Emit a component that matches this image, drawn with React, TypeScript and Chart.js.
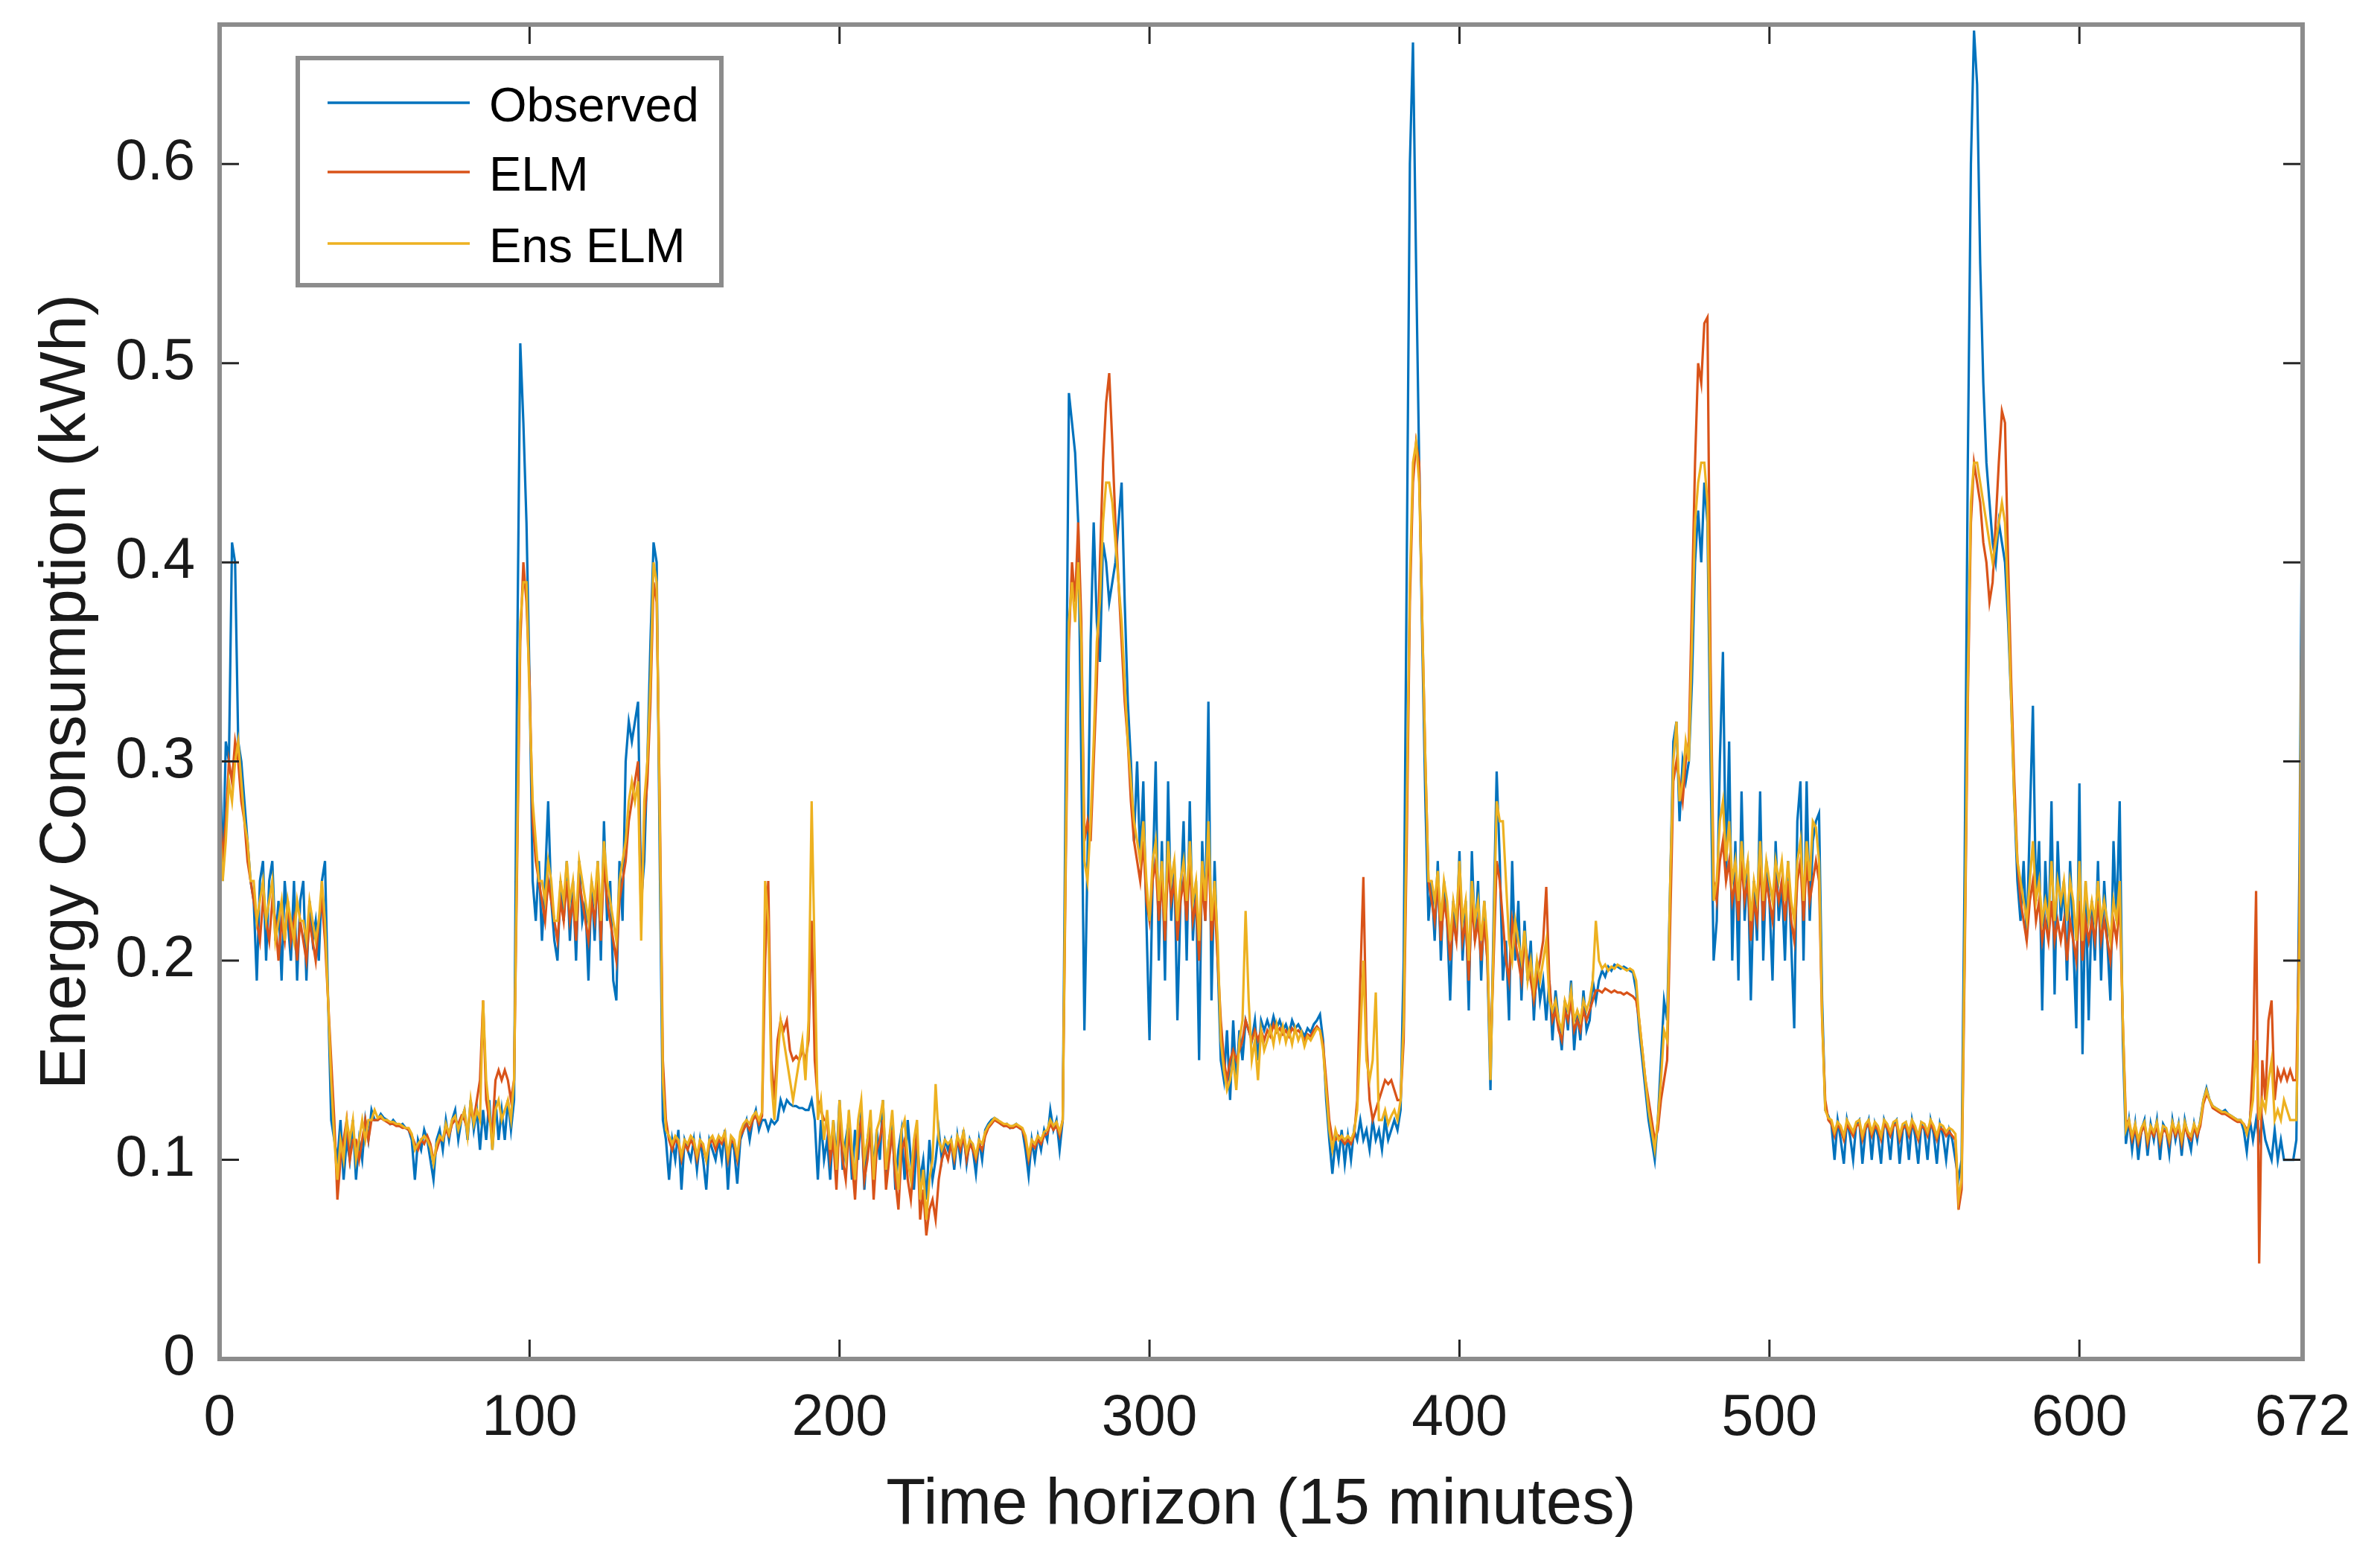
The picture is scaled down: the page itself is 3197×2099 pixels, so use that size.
import { useEffect, useRef } from 'react';
import { Chart, registerables } from 'chart.js';

Chart.register(...registerables);

const xTickValues = [0, 100, 200, 300, 400, 500, 600, 672];
const yTickValues = [0, 0.1, 0.2, 0.3, 0.4, 0.5, 0.6];
const seriesLabels = ['Observed', 'ELM', 'Ens ELM'];
const seriesColors = ['#0072BD', '#D95319', '#EDB120'];

const observed = [
  0.32,0.24,0.31,0.30,0.41,0.40,0.31,0.30,0.28,0.26,0.24,
  0.23,0.19,0.24,0.25,0.20,0.24,0.25,0.21,0.23,0.19,0.24,0.22,0.20,0.24,0.19,0.23,0.24,0.19,0.23,0.21,0.22,0.20,0.24,0.25,0.18,
  0.12,0.11,0.10,0.12,0.09,0.11,0.10,0.12,0.09,0.11,0.10,0.12,0.11,0.125,0.12,
  0.12,0.123,0.121,0.12,0.118,0.12,0.118,0.117,0.118,0.116,
  0.115,0.11,0.09,0.11,0.105,0.115,0.11,0.10,0.09,0.11,0.115,0.105,0.12,0.11,0.12,
  0.125,0.11,0.12,0.125,0.11,0.13,0.115,0.125,0.105,0.125,0.11,0.13,0.105,0.13,0.11,0.125,0.11,0.13,0.115,
  0.13,0.35,0.51,0.47,0.42,0.34,0.24,
  0.22,0.25,0.21,0.24,0.28,0.23,0.21,0.20,0.24,0.22,0.25,0.21,0.24,0.20,0.25,0.22,0.23,0.19,0.24,0.21,0.25,0.20,0.27,0.22,0.24,0.19,0.18,0.25,0.22,
  0.30,0.32,0.31,0.32,0.33,0.23,0.25,0.30,0.36,0.41,0.40,0.25,0.12,0.11,
  0.09,0.11,0.10,0.115,0.085,0.11,0.105,0.10,0.11,0.095,0.11,0.10,0.085,0.11,0.105,0.10,0.11,0.10,0.115,0.085,0.11,0.105,0.088,0.11,0.115,0.12,0.11,0.12,0.125,0.115,0.12,
  0.12,0.115,0.12,0.118,0.12,0.13,0.125,0.13,0.128,0.127,0.127,0.126,0.126,0.125,0.125,0.13,0.12,0.09,0.12,0.10,
  0.11,0.09,0.12,0.10,0.13,0.095,0.11,0.12,0.09,0.115,0.10,0.125,0.085,0.11,0.12,0.095,0.115,0.10,0.13,0.09,0.11,0.12,0.085,0.105,0.115,0.09,0.12,0.10,0.085,0.11,
  0.09,0.10,0.08,0.11,0.09,0.10,0.115,0.10,0.11,0.105,
  0.11,0.095,0.112,0.10,0.115,0.098,0.11,0.105,0.093,0.11,0.10,0.115,
  0.118,0.12,0.121,0.12,0.118,0.117,0.118,0.116,0.117,0.118,0.116,0.115,
  0.105,0.092,0.11,0.10,0.112,0.105,0.115,0.11,0.125,0.115,0.12,0.105,
  0.12,0.30,0.485,0.47,0.455,0.42,0.30,0.165,0.25,0.36,0.42,0.37,0.35,0.41,0.40,0.38,0.39,0.40,0.42,0.44,0.38,0.33,0.30,0.26,
  0.30,0.25,0.29,0.22,0.16,0.24,0.30,0.20,0.26,0.19,0.29,0.22,0.25,0.17,0.23,0.27,0.20,0.28,0.21,0.24,0.15,0.26,0.22,0.33,0.18,0.25,0.20,
  0.15,0.14,0.165,0.13,0.17,0.14,0.165,0.15,0.17,0.165,0.16,0.17,0.15,0.17,0.165,
  0.17,0.165,0.172,0.166,0.17,0.165,0.168,0.163,0.17,0.166,0.168,0.165,0.162,0.166,0.164,0.168,0.17,
  0.173,0.16,0.13,0.11,0.093,
  0.11,0.10,0.115,0.098,0.112,0.10,0.115,0.11,0.12,0.11,0.115,0.105,0.12,0.11,0.115,0.105,0.12,0.11,0.115,0.12,0.115,0.125,0.20,0.40,0.60,0.661,0.55,0.45,0.36,0.28,0.22,
  0.24,0.21,0.25,0.20,0.24,0.22,0.18,0.23,0.21,0.255,0.20,0.23,0.175,0.255,0.21,0.24,0.19,0.23,0.20,
  0.135,0.22,0.295,0.25,0.19,0.21,0.17,0.25,0.20,0.23,0.18,0.22,0.19,0.21,0.17,0.20,0.18,0.19,0.17,0.19,
  0.16,0.185,0.17,0.155,0.18,0.165,0.19,0.155,0.175,0.16,0.185,0.165,0.17,0.19,0.18,
  0.19,0.195,0.192,0.197,0.195,0.198,0.197,0.196,0.197,0.196,0.195,0.194,
  0.185,0.165,0.15,0.135,0.12,0.11,0.10,0.12,0.15,0.18,0.17,0.24,0.31,0.32,0.27,0.30,0.29,0.30,0.34,0.40,0.426,0.40,0.44,0.42,0.30,0.20,0.22,0.30,0.355,0.24,0.31,0.20,
  0.26,0.19,0.285,0.22,0.25,0.18,0.24,0.21,0.285,0.20,0.25,0.23,0.19,0.26,0.22,0.24,0.20,0.25,0.21,0.166,0.27,0.29,0.20,0.29,0.22,0.26,
  0.27,0.274,0.18,0.125,
  0.122,0.118,0.10,0.12,0.11,0.098,0.12,0.112,0.10,0.118,0.12,0.098,0.115,0.12,0.10,0.118,0.112,0.098,0.12,0.115,0.10,0.118,0.12,0.098,0.115,0.118,0.10,0.12,0.112,0.098,0.118,0.115,0.10,0.12,0.113,0.098,0.118,0.112,0.10,0.115,0.11,0.10,
  0.09,0.10,0.25,0.45,0.60,0.667,0.64,0.55,0.49,0.45,0.43,0.41,0.40,0.42,0.41,0.40,0.37,0.33,0.28,0.24,
  0.22,0.25,0.21,0.27,0.328,0.23,0.26,0.175,0.25,0.21,0.28,0.183,0.26,0.22,0.24,0.19,0.25,0.21,0.166,0.289,0.153,0.24,0.17,0.23,0.20,0.25,0.19,0.24,0.21,0.18,0.26,0.22,0.28,
  0.16,0.108,
  0.12,0.105,0.118,0.10,0.115,0.12,0.102,0.118,0.11,0.12,0.10,0.118,0.115,0.103,0.12,0.11,0.118,0.102,0.12,0.112,0.105,0.118,0.11,0.12,
  0.13,0.136,0.13,
  0.127,0.126,0.125,0.124,0.125,0.123,0.122,0.121,0.12,0.12,
  0.115,0.104,0.12,0.11,0.12,0.11,0.12,0.11,0.105,0.10,0.115,0.10,0.11,0.10,0.10,0.10,0.10,0.11,0.25,0.47,
];

const elm = [
  0.28,0.25,0.27,0.30,0.29,0.31,0.30,0.28,0.27,0.25,0.24,
  0.23,0.22,0.21,0.23,0.22,0.21,0.23,0.22,0.20,0.22,0.21,0.23,0.21,0.22,0.20,0.22,0.21,0.20,0.22,0.21,0.20,0.22,0.23,0.21,0.18,
  0.15,0.12,0.08,0.10,0.11,0.12,0.10,0.11,0.11,0.10,0.11,0.12,0.11,0.12,0.12,
  0.12,0.121,0.12,0.119,0.118,0.118,0.117,0.117,0.116,0.116,
  0.115,0.112,0.108,0.105,0.11,0.108,0.112,0.108,0.10,0.105,0.11,0.11,0.115,0.112,0.118,
  0.12,0.118,0.122,0.12,0.115,0.125,0.12,0.13,0.14,0.18,0.13,0.12,0.115,0.14,0.145,0.14,0.145,0.14,0.13,
  0.14,0.25,0.36,0.40,0.38,0.34,0.27,
  0.25,0.24,0.23,0.22,0.24,0.23,0.22,0.21,0.23,0.22,0.24,0.22,0.23,0.21,0.24,0.23,0.22,0.21,0.23,0.22,0.24,0.21,0.25,0.23,0.22,0.21,0.20,0.23,0.24,
  0.25,0.27,0.28,0.29,0.30,0.22,0.27,0.29,0.33,0.39,0.38,0.28,0.15,0.12,
  0.11,0.105,0.11,0.108,0.10,0.108,0.105,0.11,0.107,0.10,0.108,0.106,0.10,0.108,0.11,0.105,0.11,0.108,0.112,0.10,0.11,0.108,0.10,0.112,0.115,0.118,0.115,0.12,0.122,0.118,0.122,
  0.20,0.24,0.15,0.13,0.16,0.17,0.165,0.17,0.155,0.15,0.152,0.15,0.155,0.15,0.16,0.22,0.15,0.13,0.125,0.12,
  0.12,0.10,0.11,0.085,0.12,0.10,0.09,0.115,0.10,0.08,0.11,0.12,0.09,0.10,0.115,0.08,0.105,0.11,0.12,0.085,0.10,0.115,0.09,0.075,0.105,0.11,0.09,0.08,0.10,0.115,
  0.07,0.085,0.062,0.075,0.08,0.07,0.09,0.10,0.105,0.10,
  0.108,0.10,0.11,0.105,0.112,0.10,0.108,0.105,0.10,0.108,0.105,0.112,
  0.116,0.118,0.12,0.119,0.118,0.117,0.117,0.116,0.116,0.117,0.116,0.115,
  0.11,0.10,0.108,0.106,0.11,0.108,0.112,0.113,0.118,0.115,0.117,0.112,
  0.12,0.25,0.36,0.40,0.38,0.42,0.37,0.26,0.27,0.26,0.30,0.34,0.40,0.45,0.48,0.495,0.46,0.42,0.39,0.36,0.33,0.31,0.28,0.26,
  0.25,0.24,0.26,0.23,0.22,0.24,0.25,0.22,0.24,0.21,0.25,0.23,0.24,0.21,0.23,0.24,0.22,0.25,0.22,0.23,0.20,0.24,0.22,0.26,0.21,0.23,0.20,
  0.17,0.15,0.14,0.15,0.155,0.15,0.155,0.16,0.17,0.165,0.16,0.165,0.16,0.165,0.16,
  0.165,0.162,0.168,0.164,0.166,0.163,0.165,0.162,0.166,0.164,0.165,0.163,0.16,0.163,0.162,0.165,0.167,
  0.165,0.158,0.14,0.12,0.11,
  0.11,0.112,0.11,0.108,0.11,0.108,0.112,0.13,0.19,0.242,0.16,0.13,0.12,0.125,0.13,0.135,0.14,0.138,0.14,0.135,0.13,0.13,0.16,0.26,0.38,0.44,0.46,0.45,0.37,0.30,0.24,
  0.23,0.22,0.24,0.21,0.23,0.22,0.20,0.22,0.21,0.24,0.21,0.22,0.19,0.23,0.21,0.22,0.20,0.22,0.20,
  0.15,0.20,0.25,0.24,0.22,0.20,0.19,0.22,0.21,0.20,0.19,0.21,0.20,0.19,0.18,0.19,0.20,0.21,0.237,0.19,
  0.17,0.175,0.165,0.16,0.175,0.17,0.18,0.165,0.17,0.165,0.175,0.17,0.175,0.18,0.185,
  0.185,0.184,0.186,0.185,0.184,0.185,0.184,0.184,0.183,0.184,0.183,0.182,
  0.18,0.17,0.155,0.14,0.13,0.12,0.11,0.115,0.13,0.14,0.15,0.22,0.29,0.30,0.29,0.28,0.30,0.31,0.38,0.45,0.50,0.49,0.52,0.523,0.35,0.24,0.23,0.25,0.26,0.24,0.25,0.23,
  0.24,0.22,0.25,0.23,0.24,0.21,0.23,0.22,0.25,0.22,0.24,0.23,0.22,0.24,0.23,0.24,0.22,0.24,0.22,0.21,0.24,0.25,0.22,0.25,0.23,0.24,
  0.25,0.24,0.17,0.13,
  0.12,0.118,0.112,0.118,0.115,0.11,0.118,0.115,0.112,0.117,0.118,0.11,0.116,0.118,0.112,0.117,0.115,0.11,0.118,0.116,0.112,0.117,0.118,0.11,0.116,0.117,0.112,0.118,0.115,0.11,0.117,0.116,0.112,0.118,0.115,0.11,0.116,0.115,0.112,0.114,0.112,0.11,
  0.075,0.085,0.20,0.33,0.42,0.45,0.44,0.43,0.41,0.40,0.38,0.39,0.42,0.45,0.476,0.47,0.40,0.34,0.29,0.25,
  0.23,0.22,0.21,0.23,0.24,0.22,0.23,0.21,0.22,0.21,0.23,0.21,0.22,0.21,0.22,0.20,0.22,0.21,0.20,0.23,0.20,0.22,0.21,0.22,0.21,0.23,0.21,0.22,0.21,0.20,0.22,0.21,0.23,
  0.17,0.12,
  0.118,0.11,0.116,0.108,0.114,0.117,0.108,0.115,0.112,0.117,0.108,0.115,0.114,0.108,0.117,0.112,0.116,0.108,0.117,0.112,0.11,0.116,0.112,0.117,
  0.128,0.133,0.13,
  0.126,0.125,0.124,0.123,0.123,0.122,0.121,0.12,0.119,0.119,
  0.118,0.115,0.118,0.15,0.235,0.048,0.15,0.13,0.17,0.18,0.13,0.145,0.14,0.145,0.14,0.145,0.14,0.14,0.22,0.43,
];

const ensElm = [
  0.27,0.24,0.26,0.29,0.28,0.30,0.31,0.29,0.27,0.26,0.24,
  0.24,0.22,0.23,0.24,0.22,0.23,0.24,0.21,0.22,0.23,0.21,0.23,0.22,0.21,0.23,0.22,0.22,0.21,0.23,0.22,0.21,0.22,0.24,0.22,0.18,
  0.14,0.11,0.09,0.11,0.10,0.12,0.11,0.12,0.10,0.11,0.12,0.11,0.12,0.12,0.125,
  0.121,0.122,0.12,0.12,0.119,0.119,0.118,0.118,0.117,0.116,
  0.116,0.113,0.105,0.108,0.11,0.112,0.11,0.106,0.098,0.108,0.112,0.11,0.118,0.113,0.12,
  0.122,0.115,0.12,0.125,0.112,0.13,0.118,0.125,0.12,0.18,0.14,0.125,0.105,0.125,0.13,0.12,0.125,0.13,0.12,
  0.14,0.26,0.37,0.39,0.39,0.33,0.28,
  0.26,0.24,0.24,0.23,0.25,0.24,0.22,0.22,0.24,0.23,0.25,0.23,0.24,0.22,0.25,0.24,0.23,0.22,0.24,0.23,0.25,0.22,0.26,0.24,0.23,0.22,0.21,0.24,0.25,
  0.26,0.28,0.29,0.28,0.29,0.21,0.28,0.30,0.34,0.40,0.39,0.27,0.14,0.115,
  0.112,0.108,0.112,0.11,0.102,0.11,0.108,0.112,0.11,0.102,0.11,0.108,0.10,0.11,0.112,0.108,0.112,0.11,0.114,0.102,0.112,0.11,0.102,0.114,0.118,0.12,0.118,0.122,0.124,0.12,0.124,
  0.24,0.22,0.14,0.12,0.15,0.17,0.16,0.15,0.14,0.13,0.14,0.15,0.16,0.14,0.17,0.28,0.20,0.12,0.13,0.11,
  0.125,0.105,0.12,0.095,0.13,0.11,0.10,0.125,0.105,0.09,0.12,0.13,0.10,0.11,0.125,0.09,0.115,0.12,0.13,0.095,0.11,0.125,0.10,0.085,0.115,0.12,0.10,0.09,0.11,0.12,
  0.08,0.095,0.07,0.09,0.10,0.138,0.11,0.105,0.11,0.108,
  0.11,0.102,0.112,0.108,0.114,0.104,0.11,0.108,0.102,0.11,0.108,0.114,
  0.117,0.119,0.121,0.12,0.119,0.118,0.118,0.117,0.117,0.118,0.117,0.116,
  0.112,0.102,0.11,0.108,0.112,0.11,0.114,0.115,0.12,0.117,0.119,0.114,
  0.12,0.26,0.37,0.39,0.37,0.40,0.36,0.25,0.24,0.27,0.31,0.36,0.38,0.42,0.44,0.44,0.43,0.41,0.39,0.37,0.34,0.31,0.29,0.27,
  0.26,0.25,0.27,0.24,0.22,0.25,0.26,0.23,0.25,0.22,0.26,0.24,0.25,0.22,0.24,0.25,0.23,0.26,0.23,0.24,0.21,0.25,0.23,0.27,0.22,0.24,0.21,
  0.16,0.145,0.135,0.14,0.15,0.135,0.16,0.17,0.225,0.18,0.15,0.16,0.14,0.165,0.155,
  0.16,0.166,0.158,0.168,0.16,0.167,0.159,0.165,0.158,0.166,0.16,0.164,0.157,0.162,0.16,0.163,0.166,
  0.165,0.155,0.135,0.115,0.105,
  0.115,0.11,0.112,0.11,0.112,0.11,0.114,0.125,0.16,0.20,0.15,0.14,0.15,0.184,0.12,0.12,0.125,0.118,0.122,0.125,0.12,0.13,0.17,0.28,0.39,0.45,0.46,0.44,0.37,0.30,0.24,
  0.24,0.23,0.245,0.22,0.24,0.23,0.21,0.23,0.22,0.25,0.22,0.23,0.20,0.24,0.22,0.23,0.21,0.23,0.21,
  0.14,0.21,0.28,0.27,0.27,0.24,0.21,0.20,0.22,0.21,0.20,0.215,0.19,0.20,0.185,0.20,0.19,0.20,0.21,0.18,
  0.175,0.18,0.17,0.165,0.18,0.175,0.185,0.17,0.175,0.17,0.18,0.175,0.18,0.19,0.22,
  0.20,0.196,0.198,0.195,0.197,0.196,0.198,0.197,0.196,0.195,0.196,0.195,
  0.19,0.17,0.155,0.14,0.125,0.115,0.105,0.12,0.14,0.165,0.16,0.24,0.30,0.32,0.28,0.29,0.31,0.30,0.36,0.42,0.44,0.45,0.45,0.43,0.33,0.23,0.24,0.27,0.28,0.25,0.27,0.24,
  0.25,0.23,0.26,0.24,0.25,0.22,0.24,0.23,0.26,0.23,0.25,0.24,0.23,0.25,0.24,0.25,0.23,0.25,0.23,0.22,0.25,0.26,0.23,0.26,0.24,0.27,
  0.267,0.25,0.17,0.125,
  0.121,0.12,0.114,0.119,0.117,0.112,0.12,0.117,0.114,0.119,0.12,0.112,0.118,0.12,0.114,0.119,0.117,0.112,0.12,0.118,0.114,0.119,0.12,0.112,0.118,0.119,0.114,0.12,0.117,0.112,0.119,0.118,0.114,0.12,0.117,0.112,0.118,0.117,0.114,0.116,0.115,0.113,
  0.08,0.09,0.21,0.34,0.43,0.45,0.45,0.44,0.43,0.42,0.41,0.40,0.41,0.42,0.43,0.42,0.38,0.33,0.28,0.25,
  0.24,0.23,0.22,0.24,0.26,0.23,0.24,0.22,0.23,0.22,0.25,0.22,0.24,0.23,0.24,0.22,0.24,0.23,0.21,0.25,0.21,0.24,0.22,0.23,0.22,0.24,0.22,0.23,0.22,0.21,0.23,0.22,0.24,
  0.17,0.115,
  0.12,0.112,0.118,0.11,0.116,0.119,0.11,0.117,0.114,0.119,0.11,0.117,0.116,0.11,0.119,0.114,0.118,0.11,0.119,0.114,0.112,0.118,0.114,0.119,
  0.13,0.135,0.13,
  0.127,0.126,0.125,0.124,0.124,0.123,0.122,0.121,0.12,0.12,
  0.118,0.113,0.12,0.13,0.16,0.12,0.13,0.125,0.14,0.15,0.12,0.125,0.12,0.13,0.125,0.12,0.12,0.12,0.21,0.435,
];

const W = 3197;
const H = 2099;
const FONT = "'Liberation Sans', Arial, Helvetica, sans-serif";

const matlabDecor = {
  id: 'matlabDecor',
  afterDraw(chart: any) {
    const { ctx, chartArea: a, scales } = chart;
    ctx.save();
    // inward tick marks on all four sides
    ctx.strokeStyle = '#262626';
    ctx.lineWidth = 3;
    ctx.beginPath();
    const tl = 26;
    for (const v of xTickValues) {
      const px = scales.x.getPixelForValue(v);
      ctx.moveTo(px, a.bottom);
      ctx.lineTo(px, a.bottom - tl);
      ctx.moveTo(px, a.top);
      ctx.lineTo(px, a.top + tl);
    }
    for (const v of yTickValues) {
      const py = scales.y.getPixelForValue(v);
      ctx.moveTo(a.left, py);
      ctx.lineTo(a.left + tl, py);
      ctx.moveTo(a.right, py);
      ctx.lineTo(a.right - tl, py);
    }
    ctx.stroke();
    // axes box
    ctx.strokeStyle = '#8c8c8c';
    ctx.lineWidth = 6;
    ctx.strokeRect(a.left, a.top, a.right - a.left, a.bottom - a.top);

    // legend box
    const lx = 400, ly = 78, lw = 569, lh = 305;
    ctx.fillStyle = '#ffffff';
    ctx.fillRect(lx, ly, lw, lh);
    ctx.strokeStyle = '#8c8c8c';
    ctx.lineWidth = 6;
    ctx.strokeRect(lx, ly, lw, lh);
    const rows = [141, 234, 330];
    ctx.font = `65px ${FONT}`;
    ctx.textAlign = 'left';
    ctx.textBaseline = 'middle';
    chart.data.datasets.forEach((ds: any, i: number) => {
      const y = rows[i];
      ctx.strokeStyle = ds.borderColor;
      ctx.lineWidth = ds.borderWidth + 0.5;
      ctx.beginPath();
      ctx.moveTo(440, y - 3);
      ctx.lineTo(631, y - 3);
      ctx.stroke();
      ctx.fillStyle = '#000000';
      ctx.fillText(ds.label, 657, y + 4);
    });
    ctx.restore();
  },
};

export default function App() {
  const ref = useRef<HTMLCanvasElement | null>(null);

  useEffect(() => {
    if (!ref.current) return;
    const series = [observed, elm, ensElm];
    const chart = new Chart(ref.current, {
      type: 'line',
      data: {
        datasets: series.map((arr, k) => ({
          label: seriesLabels[k],
          data: arr.map((y, i) => ({ x: i, y })),
          borderColor: seriesColors[k],
          backgroundColor: seriesColors[k],
          borderWidth: 3.2,
          pointRadius: 0,
          tension: 0,
          fill: false,
          order: 3 - k,
        })),
      },
      options: {
        animation: false,
        responsive: false,
        devicePixelRatio: 1,
        events: [],
        layout: { padding: { left: 0, top: 33, right: 104, bottom: 0 } },
        plugins: {
          legend: { display: false },
          tooltip: { enabled: false },
          title: { display: false },
        },
        scales: {
          x: {
            type: 'linear',
            min: 0,
            max: 672,
            grid: { display: false, drawTicks: true, tickLength: 35 },
            border: { display: false },
            afterBuildTicks: (s: any) => {
              s.ticks = xTickValues.map((value) => ({ value }));
            },
            afterFit: (s: any) => {
              s.height = 274;
            },
            ticks: {
              autoSkip: false,
              maxRotation: 0,
              padding: 0,
              color: '#1a1a1a',
              font: { family: FONT, size: 77 },
              callback: (v: any) => String(v),
            },
            title: {
              display: true,
              text: 'Time horizon (15 minutes)',
              color: '#1a1a1a',
              font: { family: FONT, size: 87 },
              padding: { top: 0, bottom: 25 },
            },
          },
          y: {
            type: 'linear',
            min: 0,
            max: 0.67,
            grid: { display: false, drawTicks: true, tickLength: 33 },
            border: { display: false },
            afterBuildTicks: (s: any) => {
              s.ticks = yTickValues.map((value) => ({ value }));
            },
            afterFit: (s: any) => {
              s.width = 295;
            },
            ticks: {
              padding: 0,
              color: '#1a1a1a',
              font: { family: FONT, size: 77, lineHeight: 0.8 },
              callback: (v: any) => (Number(v) === 0 ? '0' : Number(v).toFixed(1)),
            },
            title: {
              display: true,
              text: 'Energy Consumption (kWh)',
              color: '#1a1a1a',
              font: { family: FONT, size: 87 },
              padding: { top: 38, bottom: 0 },
            },
          },
        },
      },
      plugins: [matlabDecor],
    } as any);
    return () => chart.destroy();
  }, []);

  return (
    <div
      style={{
        position: 'fixed',
        left: 0,
        top: 0,
        width: `${W}px`,
        height: `${H}px`,
        background: '#ffffff',
      }}
    >
      <canvas ref={ref} width={W} height={H} style={{ width: `${W}px`, height: `${H}px`, display: 'block' }} />
    </div>
  );
}
